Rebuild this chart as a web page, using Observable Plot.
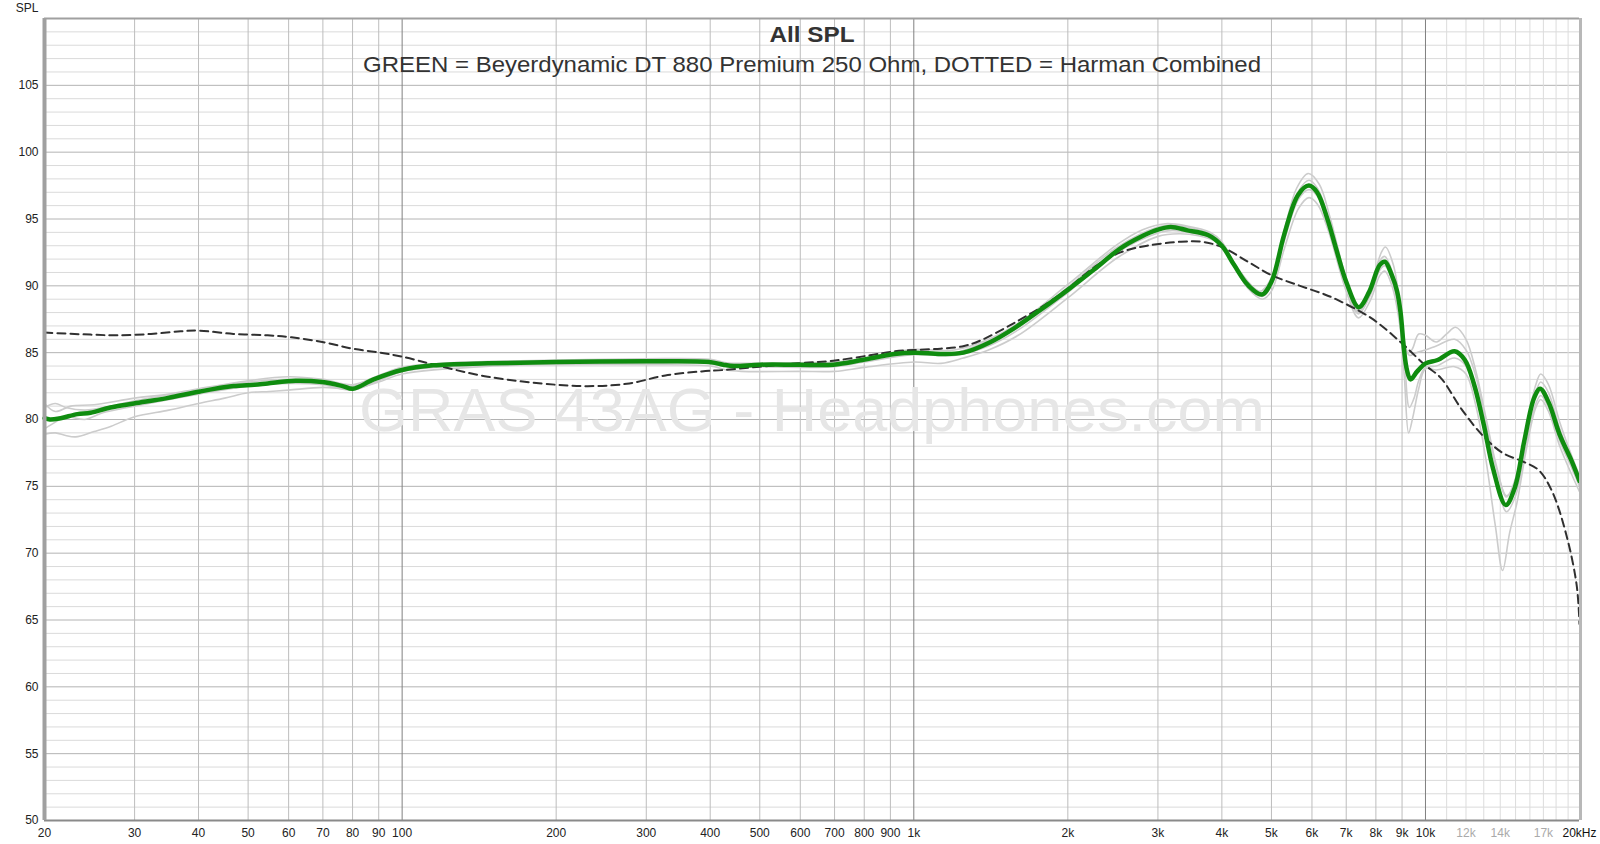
<!DOCTYPE html>
<html><head><meta charset="utf-8">
<script src="https://cdn.jsdelivr.net/npm/d3@7"></script>
<script src="https://cdn.jsdelivr.net/npm/@observablehq/plot@0.6"></script>
<style>body{margin:0;background:#fff;overflow:hidden}</style>
</head><body><div id="chart"></div>
<script>
// ---- data ----
const titleText = "All SPL";
const subtitleText = "GREEN = Beyerdynamic DT 880 Premium 250 Ohm, DOTTED = Harman Combined";
const watermarkText = "GRAS 43AG - Headphones.com";
const yAxisLabel = "SPL";

const yTickValues = [50,55,60,65,70,75,80,85,90,95,100,105];
const xTickFreqs = [20,30,40,50,60,70,80,90,100,200,300,400,500,600,700,800,900,1000,2000,3000,4000,5000,6000,7000,8000,9000,10000];
const xTickLabels = ["20","30","40","50","60","70","80","90","100","200","300","400","500","600","700","800","900","1k","2k","3k","4k","5k","6k","7k","8k","9k","10k"];
const xMinorFreqs = [12000,14000,17000];
const xMinorLabels = ["12k","14k","17k"];
const xLastFreq = [20000];
const xLastLabel = ["20kHz"];

const gridFreqsMain = [30,40,50,60,70,80,90,200,300,400,500,600,700,800,900,2000,3000,4000,5000,6000,7000,8000,9000];
const gridFreqsDecade = [100,1000,10000];
const gridFreqsHigh = [11000,12000,13000,14000,15000,16000,17000,18000,19000];

// Green: average measurement
const green = [[20,80.1],[20.5,80.0],[21.5,80.1],[23.2,80.4],[24.6,80.5],[26.9,80.9],[29.9,81.2],[34.7,81.6],[40.3,82.1],[46.8,82.5],[51.4,82.6],[54.6,82.7],[61.9,82.9],[69.8,82.8],[76.5,82.5],[80.1,82.3],[88,83.0],[100,83.7],[115,84.05],[147,84.2],[200,84.3],[300,84.35],[398,84.3],[424,84.1],[445,84.0],[500,84.1],[594,84.1],[696,84.1],[793,84.45],[916,84.9],[1006,85.0],[1128,84.9],[1250,85.0],[1413,85.8],[1567,86.8],[1768,88.2],[2000,89.7],[2247,91.2],[2534,92.8],[2773,93.65],[3000,94.2],[3177,94.4],[3427,94.15],[3757,93.8],[4000,93.0],[4228,91.55],[4500,90.05],[4787,89.35],[5000,90.3],[5292,93.8],[5636,96.8],[5916,97.5],[6140,97.0],[6431,95.0],[6685,92.8],[7000,90.3],[7405,88.4],[7762,89.55],[8136,91.55],[8330,91.8],[8595,90.8],[8800,89.6],[8940,88.0],[9080,85.2],[9200,83.7],[9350,83.0],[9636,83.6],[10010,84.2],[10560,84.45],[11400,85.1],[11940,84.45],[12450,82.6],[13000,79.6],[13550,76.35],[14350,73.6],[14950,74.9],[15600,78.4],[16300,81.6],[16750,82.3],[17400,81.3],[18300,78.85],[19300,76.9],[20000,75.4]];

// Dashed target: Harman Combined
const target = [[20,86.5],[24.6,86.35],[27.7,86.3],[32.3,86.4],[36.9,86.6],[40,86.65],[46.8,86.4],[54.6,86.3],[60.8,86.15],[69.8,85.8],[80,85.3],[90.7,85.0],[100,84.7],[115.6,84.1],[147,83.2],[200,82.6],[237,82.5],[278,82.7],[327,83.3],[385,83.6],[424,83.7],[500,83.95],[594,84.2],[696,84.4],[820,84.8],[916,85.1],[1000,85.2],[1128,85.3],[1254,85.5],[1348,85.9],[1567,87.2],[1825,88.7],[2000,89.8],[2283,91.55],[2534,92.5],[2858,93.0],[3328,93.3],[3652,93.3],[4000,92.9],[4500,91.8],[5000,90.8],[5636,90.05],[6313,89.4],[6685,89.0],[7823,87.6],[8934,85.8],[9962,84.1],[10720,83.1],[11750,80.8],[12900,78.85],[14150,77.5],[15520,76.85],[16660,76.2],[17690,74.6],[18840,71.4],[19740,67.65],[20000,64.7]];

// Grey: individual measurements
const grey1 = [[20,81.2],[21,80.6],[22.5,81.0],[25,81.1],[30,81.6],[35,81.9],[40,82.3],[50,82.9],[60,83.2],[70,83.0],[80,82.6],[90,83.3],[100,83.9],[120,84.2],[150,84.35],[200,84.45],[300,84.55],[400,84.5],[430,84.25],[460,84.2],[600,84.25],[700,84.3],[800,84.6],[900,85.0],[1000,85.25],[1200,85.2],[1400,86.0],[1600,87.2],[2000,90.1],[2500,93.1],[2800,94.2],[3100,94.65],[3400,94.5],[3800,94.0],[4000,93.3],[4300,91.3],[4750,89.6],[5000,90.6],[5300,94.2],[5600,97.3],[5900,98.4],[6200,97.6],[6500,95.2],[7000,90.5],[7400,88.0],[7800,89.9],[8200,92.5],[8350,92.9],[8650,91.6],[8950,88.2],[9200,85.0],[9400,85.2],[9700,86.4],[10000,86.3],[10500,85.8],[11000,86.4],[11450,86.9],[12000,86.0],[12550,83.6],[13150,80.0],[13750,76.6],[14400,74.2],[15000,75.6],[15700,79.0],[16400,82.5],[16800,83.4],[17400,82.6],[18300,79.8],[19300,77.3],[20000,75.8]];
const grey2 = [[20,80.9],[21,81.2],[22,80.9],[24,80.7],[27,81.0],[30,81.4],[40,82.2],[50,82.8],[60,83.0],[70,82.9],[80,82.5],[90,83.2],[100,83.8],[150,84.3],[200,84.4],[300,84.45],[400,84.4],[430,84.15],[500,84.15],[700,84.2],[800,84.5],[1000,85.1],[1200,85.0],[1400,85.9],[1600,87.0],[2000,89.9],[2500,92.9],[3000,94.4],[3200,94.55],[3500,94.3],[3800,93.9],[4000,93.1],[4250,91.5],[4500,90.0],[4800,89.4],[5000,90.4],[5300,94.0],[5650,97.1],[5920,97.9],[6150,97.3],[6450,95.2],[7000,90.3],[7400,88.2],[7800,89.7],[8150,91.9],[8330,92.2],[8600,91.1],[8950,88.0],[9100,85.8],[9300,84.8],[9600,85.0],[10000,85.2],[10500,85.5],[11400,86.0],[12000,85.2],[12550,83.2],[13150,79.6],[13750,76.4],[14400,74.3],[15000,75.3],[15700,78.6],[16400,81.9],[16800,82.8],[17400,82.0],[18300,79.3],[19300,77.0],[20000,75.6]];
const grey3 = [[20,79.3],[21,79.8],[22,80.2],[24,80.0],[26,80.5],[30,81.0],[40,81.9],[50,82.5],[60,82.7],[70,82.6],[80,82.2],[90,82.9],[100,83.6],[150,84.1],[200,84.2],[300,84.2],[400,84.2],[430,83.95],[500,83.95],[600,83.9],[700,83.95],[800,84.3],[1000,84.85],[1200,84.8],[1400,85.5],[1600,86.7],[2000,89.5],[2500,92.5],[3000,93.95],[3200,94.15],[3500,93.95],[3800,93.6],[4000,92.9],[4250,91.3],[4500,89.9],[4800,89.2],[5000,90.0],[5300,93.4],[5650,96.5],[5920,97.2],[6150,96.7],[6450,94.7],[7000,90.0],[7400,87.9],[7800,89.3],[8150,91.2],[8330,91.5],[8600,90.4],[8950,87.3],[9100,84.6],[9300,80.9],[9500,81.6],[9700,82.9],[10000,83.9],[10500,84.0],[11400,84.6],[12000,84.0],[12550,81.8],[13150,78.6],[13750,75.5],[14400,73.1],[15000,74.3],[15700,77.9],[16400,81.1],[16800,81.8],[17400,80.9],[18300,78.4],[19300,76.4],[20000,75.0]];
const grey4 = [[20,78.9],[21,79.0],[22,78.8],[23,78.7],[25,79.1],[27,79.5],[30,80.2],[35,80.7],[40,81.2],[45,81.6],[50,82.0],[55,82.1],[60,82.2],[70,82.4],[80,82.3],[90,82.8],[100,83.4],[150,84.0],[200,84.1],[300,84.1],[400,84.0],[430,83.7],[460,83.6],[600,83.6],[700,83.6],[800,83.9],[1000,84.3],[1130,84.2],[1250,84.6],[1400,85.2],[1600,86.3],[2000,89.1],[2500,92.1],[3000,93.7],[3300,93.9],[3600,93.75],[3900,93.3],[4100,92.5],[4300,91.0],[4500,89.8],[4800,89.0],[5000,89.6],[5300,92.8],[5650,95.8],[5920,96.6],[6150,96.1],[6450,94.2],[7000,89.6],[7400,87.6],[7800,88.9],[8150,90.8],[8330,91.1],[8600,90.0],[8950,86.5],[9100,83.0],[9270,79.0],[9450,80.2],[9700,82.3],[10000,83.8],[10500,83.7],[11400,83.95],[12000,83.4],[12550,81.0],[13100,77.2],[13700,72.0],[14150,68.7],[14600,71.5],[15100,73.8],[15700,77.5],[16400,80.8],[16800,81.5],[17400,80.6],[18300,78.0],[19300,75.9],[20000,74.6]];

// ---- chart ----
const yMinor = d3.range(51, 110).filter(v => v % 5 !== 0);
const yMajor = d3.range(55, 110, 5);
const font = "'Liberation Sans', Arial, sans-serif";
const fx = d => d[0], fy = d => d[1];

const chart = Plot.plot({
  width: 1600, height: 844,
  marginLeft: 44, marginRight: 21, marginTop: 18, marginBottom: 24,
  style: {fontFamily: font, background: "#fff"},
  x: {type: "log", domain: [20, 20000], axis: null},
  y: {domain: [50, 110], axis: null},
  marks: [
    Plot.ruleY(yMinor, {stroke: "#dadada", strokeWidth: 1}),
    Plot.ruleY(yMajor, {stroke: "#b4b4b4", strokeWidth: 1}),
    Plot.ruleX(gridFreqsHigh, {stroke: "#dcdcdc", strokeWidth: 1}),
    Plot.ruleX(gridFreqsMain, {stroke: "#bdbdbd", strokeWidth: 1}),
    Plot.ruleX(gridFreqsDecade, {stroke: "#808080", strokeWidth: 1}),
    Plot.text([watermarkText], {frameAnchor: "middle", dy: -8, lineAnchor: "middle", text: d => d, fontSize: 62, fill: "#e6e6e6"}),
    Plot.line(grey1, {x: fx, y: fy, curve: "catmull-rom", stroke: "#cccccc", strokeWidth: 1.6}),
    Plot.line(grey2, {x: fx, y: fy, curve: "catmull-rom", stroke: "#cccccc", strokeWidth: 1.6}),
    Plot.line(grey3, {x: fx, y: fy, curve: "catmull-rom", stroke: "#cccccc", strokeWidth: 1.6}),
    Plot.line(grey4, {x: fx, y: fy, curve: "catmull-rom", stroke: "#cccccc", strokeWidth: 1.6}),
    Plot.line(target, {x: fx, y: fy, curve: "catmull-rom", stroke: "#303030", strokeWidth: 2, strokeDasharray: "8,5"}),
    Plot.line(green, {x: fx, y: fy, curve: "catmull-rom", stroke: "#0f8c0f", strokeWidth: 4.5}),
    // frame
    Plot.ruleY([110], {stroke: "#a0a0a0", strokeWidth: 2}),
    Plot.ruleY([50], {stroke: "#8a8a8a", strokeWidth: 2}),
    Plot.ruleX([20], {stroke: "#a0a0a0", strokeWidth: 4}),
    Plot.ruleX([20000], {stroke: "#b8b8b8", strokeWidth: 3, dx: 1}),
    // titles
    Plot.text([titleText], {frameAnchor: "top", dy: 16, lineAnchor: "middle", text: d => d, fontSize: 22, fontWeight: "bold", fill: "#333"}),
    Plot.text([subtitleText], {frameAnchor: "top", dy: 46, lineAnchor: "middle", text: d => d, fontSize: 22, fill: "#333"}),
    // axes labels
    Plot.text(yTickValues, {x: 20, y: d => d, text: d => String(d), textAnchor: "end", dx: -6, fontSize: 12, fill: "#222"}),
    Plot.text([yAxisLabel], {x: 20, y: 110, text: d => d, textAnchor: "end", dx: -6, dy: -10, fontSize: 12, fill: "#222"}),
    Plot.text(xTickFreqs, {x: d => d, y: 50, text: (d, i) => xTickLabels[i], dy: 13, fontSize: 12, fill: "#222"}),
    Plot.text(xMinorFreqs, {x: d => d, y: 50, text: (d, i) => xMinorLabels[i], dy: 13, fontSize: 12, fill: "#aaaaaa"}),
    Plot.text(xLastFreq, {x: d => d, y: 50, text: (d, i) => xLastLabel[i], dy: 13, fontSize: 12, fill: "#111"})
  ]
});
// stretch headline texts to the widths seen in the reference
const widths = new Map([[titleText, 85], [subtitleText, 898], [watermarkText, 906]]);
d3.select(chart).selectAll("text").each(function() {
  const t = this.textContent;
  if (widths.has(t)) {
    this.setAttribute("textLength", widths.get(t));
    this.setAttribute("lengthAdjust", "spacingAndGlyphs");
  }
});
document.getElementById("chart").appendChild(chart);
</script>
</body></html>
